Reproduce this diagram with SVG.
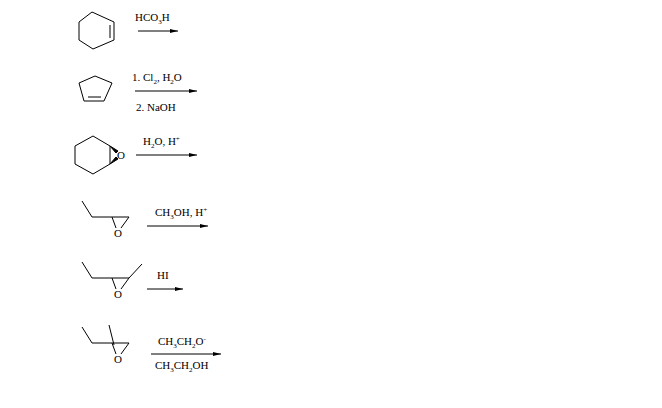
<svg xmlns="http://www.w3.org/2000/svg" width="662" height="408" viewBox="0 0 662 408">
<defs><marker id="ah" markerWidth="8" markerHeight="6" refX="8" refY="3" orient="auto" markerUnits="userSpaceOnUse"><path d="M0,1 L8,3 L0,5 Z" fill="#000"/></marker></defs>
<style>
.b{stroke:#000;stroke-width:1;fill:none}
.a{stroke:#000;stroke-width:1;fill:none;marker-end:url(#ah)}
text{font-family:"Liberation Serif",serif;font-size:11px;fill:#000}
.s{font-size:7px}
</style>
<rect width="662" height="408" fill="#fff"/>
<g id="m1"><path class="b" d="M92,12 L114,22 L114,40 L93,49 L79,40 L79,22 Z M110,25 L110,38"/></g>
<g id="m2"><path class="b" d="M95,76 L112,83 L104,101 L84,101 L79,83 Z M88,97 L101,97"/></g>
<g id="m3"><path class="b" d="M93,136 L110,146 L110,164 L93,174 L75,164 L75,146 Z"/>
<path d="M110,146 L118,151 L116,153 Z M110,164 L118,159 L116,157 Z" fill="#000" stroke="#000" stroke-width="1"/>
<text x="117" y="159">O</text></g>
<g id="m4"><path class="b" d="M82,201 L92,217 L129,217 M112,217 L116,228 M129,217 L121,228"/><text x="114" y="237">O</text></g>
<g id="m5"><path class="b" d="M82,262 L92,278 L129,278 L142,264 M112,278 L116,289 M129,278 L121,289"/><text x="114" y="298">O</text></g>
<g id="m6"><path class="b" d="M82,327 L92,343 L129,343 M109,325 L114,345 M112,343 L116,354 M129,343 L121,354"/><text x="114" y="363">O</text></g>
<g id="connectors">
<path class="a" d="M138,31 L178,31"/>
<path class="a" d="M135,91 L197,91"/>
<path class="a" d="M136,155 L197,155"/>
<path class="a" d="M147,226 L208,226"/>
<path class="a" d="M147,289 L183,289"/>
<path class="a" d="M151,354 L221,354"/>
</g>
<g id="labels">
<text x="135" y="21">HCO<tspan class="s" dy="3">3</tspan><tspan dy="-3">H</tspan></text>
<text x="132" y="81">1. Cl<tspan class="s" dy="3">2</tspan><tspan dy="-3">, H</tspan><tspan class="s" dy="3">2</tspan><tspan dy="-3">O</tspan></text>
<text x="136" y="111">2. NaOH</text>
<text x="143" y="145">H<tspan class="s" dy="3">2</tspan><tspan dy="-3">O, H</tspan><tspan class="s" dy="-4">+</tspan></text>
<text x="155" y="216">CH<tspan class="s" dy="3">3</tspan><tspan dy="-3">OH, H</tspan><tspan class="s" dy="-4">+</tspan></text>
<text x="157" y="279">HI</text>
<text x="158" y="345">CH<tspan class="s" dy="3">3</tspan><tspan dy="-3">CH</tspan><tspan class="s" dy="3">2</tspan><tspan dy="-3">O</tspan><tspan class="s" dy="-4">-</tspan></text>
<text x="155" y="369">CH<tspan class="s" dy="3">3</tspan><tspan dy="-3">CH</tspan><tspan class="s" dy="3">2</tspan><tspan dy="-3">OH</tspan></text>
</g>
</svg>
